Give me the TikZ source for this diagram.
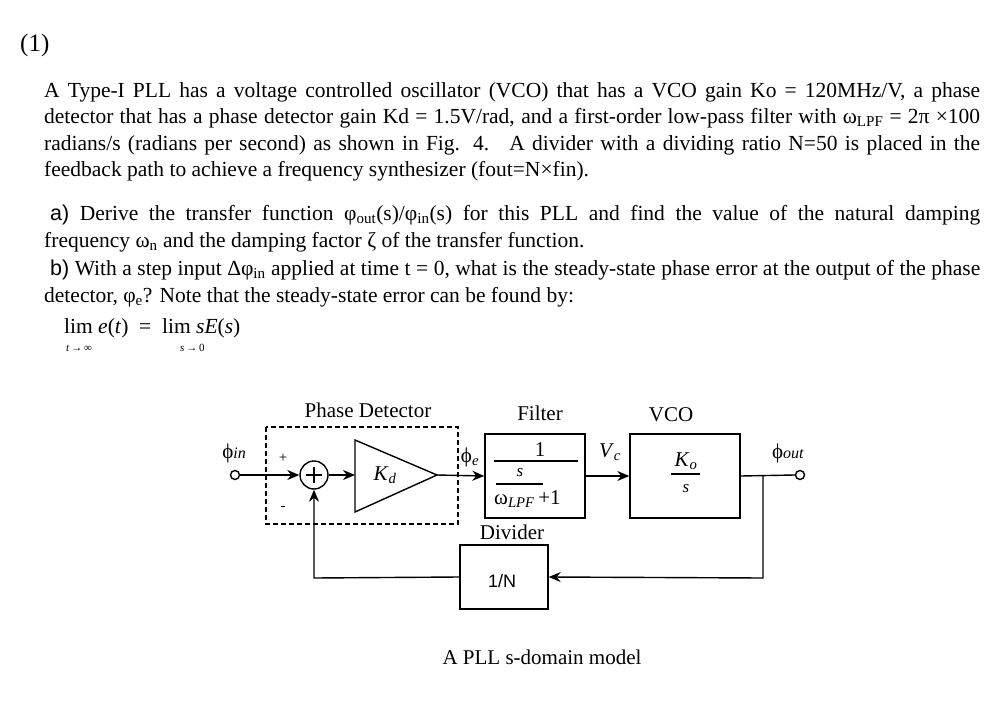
\documentclass[tikz,border=0pt]{standalone}
\usepackage{fontspec}
\setmainfont{Liberation Serif}
\newfontfamily\sansf{Liberation Sans}
\usetikzlibrary{arrows.meta}
\begin{document}
\begin{tikzpicture}[x=1pt,y=1pt,
  ln/.style={anchor=west,inner sep=0,font=\fontsize{21.5}{24}\selectfont},
  blk/.style={draw,line width=1.4pt,inner sep=0},
  wire/.style={line width=1.4pt},
  arr/.style={wire,-{Stealth[length=12pt,width=10pt]}},
  dl/.style={font=\fontsize{21}{24}\selectfont,inner sep=0}]
\useasboundingbox (0,0) rectangle (1000,-703);
\node[ln,font=\fontsize{25}{28}\selectfont] (t0) at (20,-45) {(1)};
\node[ln] (l1) at (44,-92) {\makebox[936pt][s]{A Type-I PLL has a voltage controlled oscillator (VCO) that has a VCO gain Ko = 120MHz/V, a phase}};
\node[ln] (l2) at (44,-118) {\makebox[936pt][s]{detector that has a phase detector gain Kd = 1.5V/rad, and a first-order low-pass filter with ω\textsubscript{LPF} = 2π ×100}};
\node[ln] (l3) at (44,-145) {\makebox[936pt][s]{radians/s (radians per second) as shown in Fig. 4. \ A divider with a dividing ratio N=50 is placed in the}};
\node[ln] (l4) at (44,-171) {feedback path to achieve a frequency synthesizer (fout=N×fin).};
\node[ln] (l5) at (50,-215) {\makebox[930pt][s]{{\sansf a)} Derive the transfer function φ\textsubscript{out}(s)/φ\textsubscript{in}(s) for this PLL and find the value of the natural damping}};
\node[ln] (l6) at (44,-242) {frequency ω\textsubscript{n} and the damping factor ζ of the transfer function.};
\node[ln] (l7) at (50,-270) {\makebox[930pt][s]{{\sansf b)} With a step input Δφ\textsubscript{in} applied at time t = 0, what is the steady-state phase error at the output of the phase}};
\node[ln] (l8) at (44,-297) {detector, φ\textsubscript{e}? Note that the steady-state error can be found by:};
\node[ln] (l9) at (64,-328) {lim \textit{e}(\textit{t}) \ = \ lim \textit{sE}(\textit{s})};
\node[ln,font=\fontsize{11}{12}\selectfont] (l10) at (66,-348) {\textit{t}\,→\,∞};
\node[ln,font=\fontsize{11}{12}\selectfont] (l11) at (180,-348) {\textit{s}\,→\,0};

% diagram
\node[dl] (phin) at (234,-453) {ϕ\textit{\fontsize{16}{16}\selectfont in}};
\node[draw,circle,line width=1.4pt,minimum size=9pt,inner sep=0] (in) at (235,-475) {};
\draw[dash pattern=on 5pt off 3pt,line width=1.4pt] (266,-427) rectangle (458,-524);
\node[dl] (pdl) at (368,-410) {Phase Detector};
\node[dl,font=\fontsize{15}{15}\selectfont] (plus) at (283,-458) {+};
\node[dl,font=\fontsize{15}{15}\selectfont] (minus) at (283,-508) {-};
\node[draw,circle,line width=1.4pt,minimum size=28pt,inner sep=0] (sum) at (314,-475) {};
\draw[line width=1.5pt] (sum.center) ++(-8,0) -- ++(16,0) (sum.center) ++(0,-8) -- ++(0,16);
\draw[line width=1.4pt] (355,-440) -- (437,-475) -- (355,-512) -- cycle;
\coordinate (tip) at (437,-475);
\coordinate (kin) at (355,-475);
\node[dl] (kd) at (385,-475) {\textit{K}\textsubscript{\textit{d}}};
\node[dl] (phe) at (470,-457) {ϕ\textsubscript{\textit{e}}};
\node[blk,minimum width=100pt,minimum height=84pt] (flt) at (535,-476) {};
\node[dl] (fl) at (540,-413) {Filter};
\node[dl] (one) at (540,-450) {1};
\draw[line width=1.3pt] (494,-461) -- (578,-461);
\node[dl,font=\fontsize{17}{17}\selectfont\itshape] (ss) at (520,-473) {s};
\draw[line width=1.2pt] (496,-484) -- (543,-484);
\node[dl,anchor=west] (wl) at (494,-499) {ω\textsubscript{\textit{LPF}}\,+1};
\node[dl] (vc) at (610,-452) {\textit{V}\textsubscript{\textit{c}}};
\node[blk,minimum width=110pt,minimum height=84pt] (vco) at (685,-476) {};
\node[dl] (vcol) at (671,-415) {VCO};
\node[dl] (ko) at (686,-461) {\textit{K}\textsubscript{\textit{o}}};
\draw[line width=1.2pt] (671,-474) -- (700,-474);
\node[dl,font=\fontsize{17}{17}\selectfont\itshape] (s2) at (686,-489) {s};
\node[dl] (pho) at (788,-453) {ϕ\textit{\fontsize{16}{16}\selectfont out}};
\node[draw,circle,line width=1.4pt,minimum size=9pt,inner sep=0] (out) at (800,-475) {};
\coordinate (br) at (763,-475);
\coordinate (br2) at (763,-578);
\coordinate (fb) at (314,-578);
\node[blk,minimum width=88pt,minimum height=64pt] (div) at (504,-577) {};
\node[dl,font=\sansf\fontsize{18}{18}\selectfont] (n) at (502,-581) {1/N};
\node[dl] (divl) at (512,-532) {Divider};
\node[dl] (cap) at (542,-657) {A PLL s-domain model};

\draw[arr] (in.east) -- (sum.west);
\draw[arr] (sum.east) -- (kin);
\draw[arr] (tip) -- (flt.west);
\draw[arr] (flt.east) -- (vco.west);
\draw[wire] (vco.east) -- (out.west);
\draw[arr] (br) -- (br2) -- (div.east);
\draw[arr] (div.west) -- (fb) -- (sum.south);
\end{tikzpicture}
\end{document}
